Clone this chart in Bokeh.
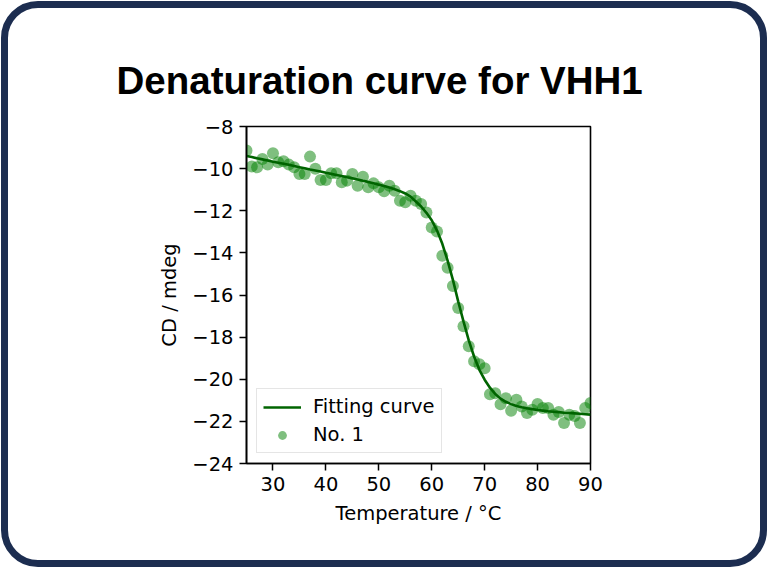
from bokeh.plotting import figure
from bokeh.models import Range1d, FixedTicker, Legend, LegendItem
from bokeh.embed import file_html
from bokeh.resources import INLINE

# ---- data ----
temperatures = [25, 26, 27, 28, 29, 30, 31, 32, 33, 34, 35, 36, 37, 38, 39, 40,
                41, 42, 43, 44, 45, 46, 47, 48, 49, 50, 51, 52, 53, 54, 55, 56,
                57, 58, 59, 60, 61, 62, 63, 64, 65, 66, 67, 68, 69, 70, 71, 72,
                73, 74, 75, 76, 77, 78, 79, 80, 81, 82, 83, 84, 85, 86, 87, 88,
                89, 90]

cd_measured = [-9.14, -9.90, -9.94, -9.54, -9.81, -9.27, -9.70, -9.65, -9.81, -9.94,
               -10.25, -10.25, -9.43, -10.01, -10.54, -10.54, -10.22, -10.22, -10.65, -10.57,
               -10.25, -10.81, -10.38, -10.89, -10.70, -10.89, -11.08, -10.81, -11.05, -11.52,
               -11.60, -11.29, -11.52, -11.68, -12.08, -12.80, -12.99, -14.14, -14.71, -15.57,
               -16.62, -17.48, -18.43, -19.14, -19.29, -19.48, -20.71, -20.67, -21.19, -20.90,
               -21.49, -20.97, -21.29, -21.60, -21.45, -21.18, -21.37, -21.37, -21.68, -21.55,
               -22.08, -21.68, -21.75, -22.08, -21.37, -21.13]

fit_temperatures = temperatures
fit_cd = [-9.40, -9.45, -9.51, -9.56, -9.61, -9.67, -9.72, -9.77, -9.82, -9.88,
          -9.93, -9.98, -10.04, -10.09, -10.14, -10.20, -10.25, -10.30, -10.35, -10.41,
          -10.46, -10.52, -10.58, -10.63, -10.69, -10.76, -10.82, -10.90, -10.98, -11.07,
          -11.18, -11.33, -11.56, -11.80, -12.10, -12.45, -12.94, -13.57, -14.37, -15.28,
          -16.30, -17.25, -18.15, -18.92, -19.55, -20.02, -20.40, -20.70, -20.92, -21.07,
          -21.18, -21.27, -21.33, -21.38, -21.42, -21.46, -21.49, -21.52, -21.54, -21.56,
          -21.59, -21.60, -21.62, -21.64, -21.66, -21.68]

x_ticks = [30, 40, 50, 60, 70, 80, 90]
y_ticks = [-24, -22, -20, -18, -16, -14, -12, -10, -8]
y_tick_labels = ["\u221224", "\u221222", "\u221220", "\u221218", "\u221216",
                 "\u221214", "\u221212", "\u221210", "\u22128"]

title_text = "Denaturation curve for VHH1"
x_label = "Temperature / \u00b0C"
y_label = "CD / mdeg"
legend_labels = ["Fitting curve", "No. 1"]

# ---- figure ----
W, H = 768, 568
p = figure(width=W, height=H, output_backend="svg", toolbar_location=None,
           x_range=Range1d(25, 90), y_range=Range1d(-24, -8),
           min_border_left=246, min_border_right=178,
           min_border_top=126, min_border_bottom=105)

# rounded dark frame around the whole card (canvas border area is transparent)
p.styles = {"outline": "7px solid #1c2d50", "outline-offset": "-8px",
            "border-radius": "38px", "background-color": "white"}

p.background_fill_color = "white"
p.border_fill_color = None
p.outline_line_color = "black"
p.outline_line_width = 1.6
p.xgrid.visible = False
p.ygrid.visible = False

p.title.text = title_text
p.title.text_font = "Liberation Sans"
p.title.text_font_size = "38.5px"
p.title.text_font_style = "bold"
p.title.text_color = "black"
p.title.align = "left"
p.title.offset = -130
p.title.standoff = 49

for ax in (p.xaxis[0], p.yaxis[0]):
    ax.axis_line_color = "black"
    ax.axis_line_width = 1.6
    ax.major_tick_out = 7
    ax.major_tick_in = 0
    ax.major_tick_line_width = 1.5
    ax.major_tick_line_color = "black"
    ax.minor_tick_line_color = None
    ax.major_label_text_font = "DejaVu Sans"
    ax.major_label_text_font_size = "19.5px"
    ax.major_label_text_color = "black"
    ax.major_label_standoff = 6
    ax.axis_label_text_font = "DejaVu Sans"
    ax.axis_label_text_font_size = "19.5px"
    ax.axis_label_text_font_style = "normal"
    ax.axis_label_text_color = "black"
    ax.axis_label_standoff = 8

p.xaxis[0].ticker = FixedTicker(ticks=x_ticks)
p.yaxis[0].ticker = FixedTicker(ticks=y_ticks)
p.yaxis[0].major_label_overrides = {t: lab for t, lab in zip(y_ticks, y_tick_labels)}
p.xaxis[0].axis_label = x_label
p.yaxis[0].axis_label = y_label

r_pts = p.scatter(temperatures, cd_measured, size=12, marker="circle",
                  fill_color="#008000", fill_alpha=0.5, line_color=None)
r_fit = p.line(fit_temperatures, fit_cd, line_color="#006400", line_width=2.6)

legend = Legend(items=[LegendItem(label=legend_labels[0], renderers=[r_fit]),
                       LegendItem(label=legend_labels[1], renderers=[r_pts])],
                location="bottom_left", margin=10, padding=6, spacing=5,
                glyph_width=38, glyph_height=22, label_height=22, label_width=112,
                label_standoff=12, label_text_font="DejaVu Sans",
                label_text_font_size="19.5px", label_text_color="black",
                border_line_color="#cccccc", border_line_width=1,
                background_fill_color="white", background_fill_alpha=0.8)
p.add_layout(legend)

open("out.html", "w").write(file_html(p, INLINE))
